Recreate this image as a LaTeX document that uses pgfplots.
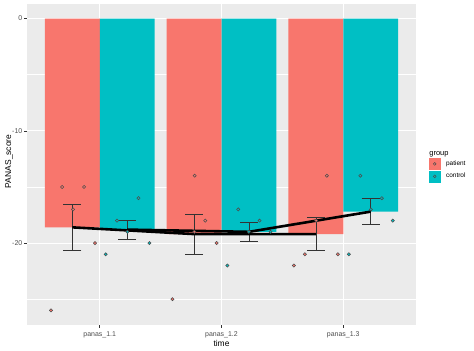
\documentclass[border=0pt]{standalone}
\usepackage{pgfplots}
\pgfplotsset{compat=1.18}
\usepackage{fontspec}
\setmainfont{Liberation Sans}
\definecolor{patient}{HTML}{F8766D}
\definecolor{control}{HTML}{00BFC4}
\definecolor{panel}{HTML}{EBEBEB}
\definecolor{grey30}{HTML}{4D4D4D}
\definecolor{grey20}{HTML}{333333}

\pgfplotstableread{
x y
0.600 -26
0.691 -15
0.781 -17
0.871 -15
0.961 -20
1.597 -25
1.777 -19
1.780 -14
1.867 -18
1.960 -20
2.595 -22
2.685 -21
2.778 -18
2.865 -14
2.956 -21
}\patientpts
\pgfplotstableread{
x y
1.049 -21
1.142 -18
1.227 -19
1.318 -16
1.408 -20
2.048 -22
2.137 -17
2.225 -19
2.313 -18
2.403 -19
3.046 -21
3.140 -14
3.227 -17
3.317 -16
3.407 -18
}\controlpts
\pgfplotstableread{
x y e
0.775 -18.6 2.064
1.225 -18.8 0.860
1.775 -19.2 1.772
2.225 -19.0 0.837
2.775 -19.2 1.463
3.225 -17.2 1.158
}\errs

\begin{document}
\begin{tikzpicture}
\path[use as bounding box] (0,0) rectangle (474bp,351bp);
\begin{axis}[
  at={(26.7bp,26bp)}, anchor=south west,
  scale only axis, width=389.6bp, height=321bp,
  xmin=0.4, xmax=3.6, ymin=-27.3, ymax=1.3,
  axis background/.style={fill=panel},
  axis line style={draw=none},
  xtick={1,2,3}, xticklabels={panas\_1.1,panas\_1.2,panas\_1.3},
  ytick={-20,-10,0}, yticklabels={-20,-10,0},
  minor ytick={-25,-15,-5},
  xmajorgrids, ymajorgrids, yminorgrids,
  major grid style={white, line width=1.1bp},
  minor grid style={white, line width=0.55bp},
  tick align=outside, xtick pos=bottom, ytick pos=left,
  major tick length=2.7bp, minor tick length=0pt,
  tick style={grey20, line width=0.55bp},
  ticklabel style={font=\fontsize{7}{8}\selectfont, text=grey30},
  yticklabel style={anchor=east, inner sep=0pt, xshift=-1.5bp},
  xticklabel style={anchor=north, inner sep=0pt, yshift=-4bp},
  xlabel={time}, ylabel={PANAS\_score},
  label style={font=\fontsize{8.5}{10}\selectfont},
  xlabel style={at={(axis description cs:0.5,0)}, anchor=center, inner sep=0pt, yshift=-18bp},
  ylabel style={at={(axis description cs:0,0.51)}, anchor=center, inner sep=0pt, yshift=17.7bp},
  legend style={at={(axis description cs:1,0.5)}, anchor=north west, xshift=12.5bp, yshift=13bp,
    draw=none, fill=none, inner sep=0pt, row sep=1bp,
    font=\fontsize{6.5}{7.5}\selectfont,
    nodes={inner sep=0pt, anchor=west},
    /tikz/column sep=5.7bp},
  legend cell align=left,
]
\addlegendimage{empty legend}
\addlegendentry{\hspace*{-16.7bp}\fontsize{7.5}{9}\selectfont group}
\addlegendimage{legend image code/.code={
  \fill[patient] (0bp,-5.5bp) rectangle (11bp,5.5bp);
  \draw[black!70, fill=patient, line width=0.5bp] (5.5bp,0bp) circle (1.4bp);}}
\addlegendentry{patient}
\addlegendimage{legend image code/.code={
  \fill[control] (0bp,-5.5bp) rectangle (11bp,5.5bp);
  \draw[black!70, fill=control, line width=0.5bp] (5.5bp,0bp) circle (1.4bp);}}
\addlegendentry{control}

\addplot[ybar, bar width=0.45, bar shift=-0.225, fill=patient, draw=none, forget plot]
  coordinates {(1,-18.6) (2,-19.2) (3,-19.2)};
\addplot[ybar, bar width=0.45, bar shift=0.225, fill=control, draw=none, forget plot]
  coordinates {(1,-18.8) (2,-19.0) (3,-17.2)};

\addplot[only marks, mark=*, mark size=1.6bp, mark options={fill=patient, draw=black!70, line width=0.55bp}, forget plot]
  table[x=x, y=y] {\patientpts};
\addplot[only marks, mark=*, mark size=1.6bp, mark options={fill=control, draw=black!70, line width=0.55bp}, forget plot]
  table[x=x, y=y] {\controlpts};

\addplot[grey20, line width=0.7bp, only marks, mark=text, text mark={}, forget plot,
  error bars/.cd, y dir=both, y explicit, error mark=|,
  error bar style={draw=grey20, line width=0.7bp},
  error mark options={draw=grey20, line width=0.7bp, mark size=9bp}]
  table[x=x, y=y, y error=e] {\errs};

\addplot[black, line width=2.6bp, mark=none, forget plot]
  coordinates {(0.775,-18.6) (1.775,-19.2) (2.775,-19.2)};
\addplot[black, line width=2.6bp, mark=none, forget plot]
  coordinates {(1.225,-18.8) (2.225,-19.0) (3.225,-17.2)};
\end{axis}
\end{tikzpicture}
\end{document}
